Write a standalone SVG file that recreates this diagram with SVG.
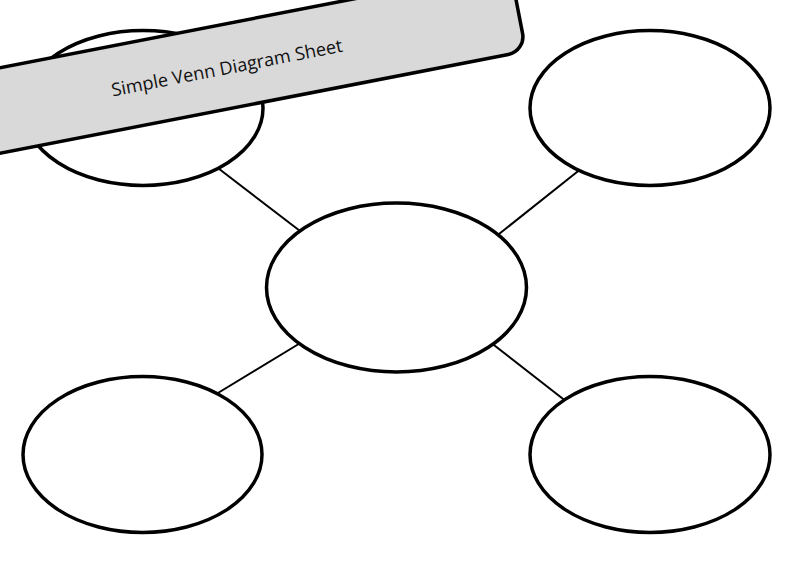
<svg xmlns="http://www.w3.org/2000/svg" width="794" height="577" viewBox="0 0 794 577">
  <style>
    .node { fill: #ffffff; stroke: #000000; stroke-width: 3.5; }
    .conn { stroke: #000000; stroke-width: 2; fill: none; }
    .banner { fill: #d9d9d9; stroke: #000000; stroke-width: 3.5; }
    .title { font-family: "Open Sans", "Noto Sans", "Liberation Sans", sans-serif; font-size: 18.2px; fill: #111111; }
  </style>
  <rect width="794" height="577" fill="#ffffff"/>
  <g id="connectors">
    <line class="conn" x1="214" y1="165" x2="304" y2="234"/>
    <line class="conn" x1="582" y1="168" x2="494" y2="238"/>
    <line class="conn" x1="302" y1="342" x2="213" y2="396"/>
    <line class="conn" x1="490" y1="342" x2="567" y2="402"/>
  </g>
  <g id="node-top-left">
    <ellipse class="node" cx="143" cy="108" rx="120" ry="77.5"/>
  </g>
  <g id="node-top-right">
    <ellipse class="node" cx="650" cy="108" rx="120" ry="77.5"/>
  </g>
  <g id="node-center">
    <ellipse class="node" cx="396.5" cy="287.5" rx="130" ry="84.5"/>
  </g>
  <g id="node-bottom-left">
    <ellipse class="node" cx="142.5" cy="454.5" rx="119.5" ry="78"/>
  </g>
  <g id="node-bottom-right">
    <ellipse class="node" cx="650" cy="454.5" rx="120" ry="78"/>
  </g>
  <g id="banner">
    <rect class="banner" transform="translate(526,51) rotate(-11)" x="-700" y="-84" width="700" height="84" rx="18" ry="18"/>
    <text class="title" transform="translate(228,74) rotate(-11)" text-anchor="middle">Simple Venn Diagram Sheet</text>
  </g>
</svg>
